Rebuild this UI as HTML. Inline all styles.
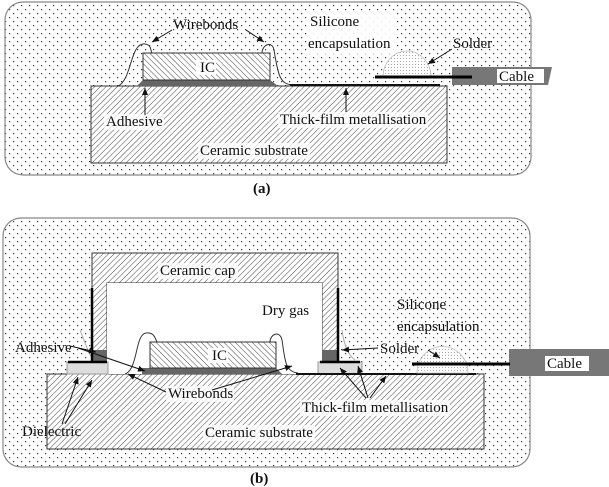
<!DOCTYPE html>
<html><head><style>
html,body{margin:0;padding:0;background:#fff;}
svg{display:block;}
text{font-family:"Liberation Serif",serif;font-size:15px;fill:#111;}
</style></head><body>
<svg width="609" height="487" viewBox="0 0 609 487" xmlns="http://www.w3.org/2000/svg">
<defs>
<pattern id="dots" width="8" height="8" patternUnits="userSpaceOnUse">
<rect width="8" height="8" fill="#fff"/>
<rect x="1" y="1" width="1.2" height="1.2" fill="#333"/>
<rect x="5" y="5" width="1.2" height="1.2" fill="#333"/>
</pattern>
<pattern id="hatch" width="4" height="4" patternUnits="userSpaceOnUse" patternTransform="rotate(45)">
<rect width="4" height="4" fill="#fff"/>
<line x1="0" y1="0" x2="0" y2="4" stroke="#333" stroke-width="0.9"/>
</pattern>
<pattern id="hatch2" width="4" height="4" patternUnits="userSpaceOnUse" patternTransform="rotate(-45)">
<rect width="4" height="4" fill="#fff"/>
<line x1="0" y1="0" x2="0" y2="4" stroke="#333" stroke-width="0.9"/>
</pattern>
<pattern id="fine" width="3" height="3" patternUnits="userSpaceOnUse">
<rect width="3" height="3" fill="#fff"/>
<rect x="1" y="1" width="1" height="1" fill="#aaa"/>
</pattern>
<marker id="ar" markerWidth="8" markerHeight="8" refX="7" refY="4" orient="auto" markerUnits="userSpaceOnUse"><path d="M0,1 L7,4 L0,7 z" fill="#111"/></marker>
</defs>

<!-- Panel A -->
<rect x="5" y="2" width="526" height="173" rx="18" fill="url(#dots)" stroke="#888" stroke-width="1.2"/>
<rect x="91" y="86" width="356" height="77" fill="url(#hatch)" stroke="#333"/>
<path d="M137,86 L143,80 L270,80 L278,86 Z" fill="#666"/>
<rect x="143" y="53" width="127" height="27" fill="url(#hatch2)" stroke="#333"/>
<path d="M118,86 C132,80 130,42 145,44 C152,45 150,50 152,53" fill="none" stroke="#333"/>
<path d="M262,53 C262,45 272,40 274,50 C278,75 280,84 292,85" fill="none" stroke="#333"/>
<line x1="290" y1="85" x2="440" y2="85" stroke="#111" stroke-width="2"/>
<path d="M383,77 A24,26 0 0 1 431,77 Z" fill="url(#fine)" stroke="#bbb" stroke-width="0.8"/>
<polygon points="452,67 552,67 548,85 452,85" fill="#777"/>
<rect x="497" y="69" width="47" height="14" fill="#fff"/>
<line x1="375" y1="77" x2="472" y2="77" stroke="#000" stroke-width="3"/>
<text x="173" y="29">Wirebonds</text>
<line x1="172" y1="30" x2="152" y2="42" stroke="#111" marker-end="url(#ar)"/>
<line x1="246" y1="30" x2="264" y2="42" stroke="#111" marker-end="url(#ar)"/>
<rect x="308" y="12" width="88" height="42" fill="#fff" opacity="0.85"/>
<text x="310" y="26">Silicone</text>
<text x="308" y="48">encapsulation</text>
<text x="453" y="48">Solder</text>
<line x1="452" y1="49" x2="428" y2="64" stroke="#111" marker-end="url(#ar)"/>
<text x="499" y="81">Cable</text>
<rect x="196" y="60" width="20" height="15" fill="#fff"/>
<text x="200" y="72">IC</text>
<rect x="104" y="114" width="60" height="16" fill="#fff" opacity="0.8"/>
<text x="106" y="126">Adhesive</text>
<line x1="145" y1="115" x2="145" y2="88" stroke="#111" marker-end="url(#ar)"/>
<rect x="278" y="112" width="150" height="16" fill="#fff" opacity="0.8"/>
<text x="280" y="124">Thick-film metallisation</text>
<line x1="346" y1="112" x2="346" y2="88" stroke="#111" marker-end="url(#ar)"/>
<rect x="198" y="143" width="112" height="16" fill="#fff" opacity="0.8"/>
<text x="200" y="155">Ceramic substrate</text>
<text x="253" y="193" style="font-weight:bold">(a)</text>

<!-- Panel B -->
<rect x="3" y="218" width="527" height="249" rx="18" fill="url(#dots)" stroke="#888" stroke-width="1.2"/>
<rect x="47" y="374" width="437" height="75" fill="url(#hatch)" stroke="#333"/>
<path d="M92,253 L338,253 L338,358 L322,358 L322,283 L107,283 L107,358 L92,358 Z" fill="url(#hatch)" stroke="#333"/>
<rect x="107" y="283" width="215" height="91" fill="#fff"/>
<path d="M80,330 C86,345 88,352 92,358" fill="none" stroke="#aaa"/>
<path d="M342,330 C344,345 348,355 355,360" fill="none" stroke="#aaa"/>
<rect x="67" y="362" width="41" height="12" fill="#ddd" stroke="#999"/>
<rect x="318" y="362" width="44" height="12" fill="#ddd" stroke="#999"/>
<rect x="92" y="350" width="15" height="11" fill="#666"/>
<rect x="322" y="350" width="15" height="11" fill="#666"/>
<line x1="68" y1="362" x2="107" y2="362" stroke="#000" stroke-width="2.5"/>
<line x1="320" y1="362" x2="360" y2="362" stroke="#000" stroke-width="2.5"/>
<line x1="92" y1="288" x2="92" y2="362" stroke="#000" stroke-width="2.5"/>
<line x1="338" y1="288" x2="338" y2="362" stroke="#000" stroke-width="2.5"/>
<path d="M142,368 L148,368 L276,368 L282,374 L142,374 Z" fill="#666"/>
<rect x="150" y="342" width="126" height="26" fill="url(#hatch2)" stroke="#333"/>
<path d="M125,374 C138,370 135,334 146,333 C154,332 155,338 157,342" fill="none" stroke="#333"/>
<path d="M270,342 C270,334 280,330 282,340 C285,360 285,372 298,373" fill="none" stroke="#333"/>
<line x1="296" y1="374" x2="476" y2="374" stroke="#111" stroke-width="2"/>
<path d="M417,373 A25,26 0 0 1 468,373 Z" fill="url(#fine)" stroke="#bbb" stroke-width="0.8"/>
<rect x="509" y="349" width="100" height="27" fill="#777"/>
<rect x="545" y="356" width="44" height="15" fill="#fff"/>
<line x1="412" y1="364" x2="510" y2="364" stroke="#000" stroke-width="3"/>
<rect x="158" y="263" width="80" height="16" fill="#fff" opacity="0.8"/>
<text x="160" y="275">Ceramic cap</text>
<text x="262" y="315">Dry gas</text>
<text x="397" y="309">Silicone</text>
<text x="397" y="331">encapsulation</text>
<text x="15" y="352">Adhesive</text>
<line x1="70" y1="346" x2="96" y2="352" stroke="#111" marker-end="url(#ar)"/>
<line x1="78" y1="348" x2="145" y2="371" stroke="#111" marker-end="url(#ar)"/>
<rect x="208" y="348" width="20" height="15" fill="#fff"/>
<text x="212" y="360">IC</text>
<text x="380" y="353">Solder</text>
<line x1="378" y1="348" x2="342" y2="350" stroke="#111" marker-end="url(#ar)"/>
<line x1="428" y1="350" x2="440" y2="358" stroke="#111" marker-end="url(#ar)"/>
<text x="547" y="368">Cable</text>
<rect x="166" y="386" width="68" height="16" fill="#fff" opacity="0.8"/>
<text x="168" y="398">Wirebonds</text>
<line x1="166" y1="392" x2="128" y2="374" stroke="#111" marker-end="url(#ar)"/>
<line x1="212" y1="390" x2="292" y2="366" stroke="#111" marker-end="url(#ar)"/>
<rect x="300" y="400" width="150" height="16" fill="#fff" opacity="0.8"/>
<text x="302" y="412">Thick-film metallisation</text>
<line x1="366" y1="398" x2="340" y2="368" stroke="#111" marker-end="url(#ar)"/>
<line x1="368" y1="398" x2="358" y2="366" stroke="#111" marker-end="url(#ar)"/>
<line x1="370" y1="398" x2="386" y2="376" stroke="#111" marker-end="url(#ar)"/>
<text x="22" y="436">Dielectric</text>
<line x1="62" y1="424" x2="78" y2="377" stroke="#111" marker-end="url(#ar)"/>
<line x1="65" y1="424" x2="92" y2="380" stroke="#111" marker-end="url(#ar)"/>
<rect x="203" y="425" width="112" height="16" fill="#fff" opacity="0.8"/>
<text x="205" y="437">Ceramic substrate</text>
<text x="250" y="483" style="font-weight:bold">(b)</text>
</svg>
</body></html>
